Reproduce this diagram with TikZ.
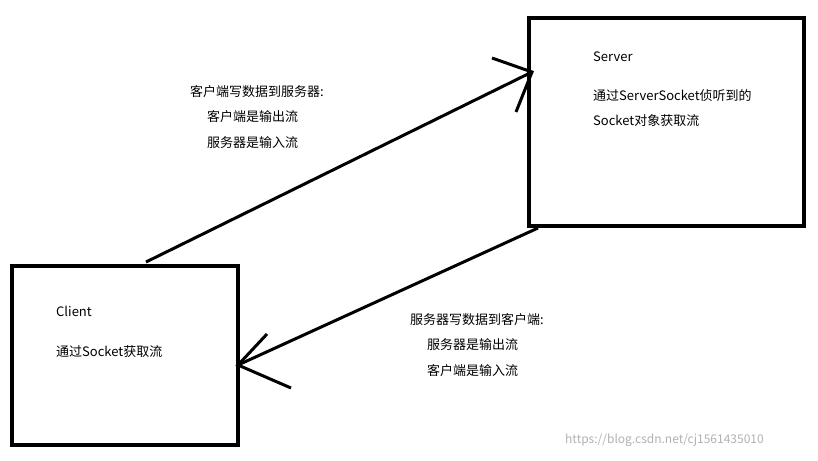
\documentclass[tikz,border=0pt]{standalone}
\usepackage{fontspec}
\setmainfont{Noto Sans CJK SC}
\begin{document}
\begin{tikzpicture}[x=1pt,y=-1pt,
  box/.style={draw,line width=3.5pt},
  ln/.style={line width=3pt},
  txt/.style={anchor=west,inner sep=0pt,font=\fontsize{13}{15}\selectfont},
  wm/.style={anchor=west,inner sep=0pt,font=\fontsize{12}{14}\selectfont,text=gray!60}]
\useasboundingbox (0,0) rectangle (818,460);
\fill[white] (0,0) rectangle (818,460);
\draw[box] (529,18) rectangle (804,226);
\draw[box] (12,266) rectangle (238,445);
\coordinate (s) at (146,262);
\coordinate (t) at (532,72);
\coordinate (t1) at (492,58);
\coordinate (t2) at (516,112);
\draw[ln] (s) -- (t);
\draw[ln,line join=miter] (t1) -- (t) -- (t2);
\coordinate (u) at (538,228);
\coordinate (v) at (238,365);
\coordinate (v1) at (291,388);
\coordinate (v2) at (267,334);
\draw[ln] (u) -- (v);
\draw[ln,line join=miter] (v1) -- (v) -- (v2);
\node[txt] (sn) at (593,57) {Server};
\node[txt] (s1) at (593,96) {通过ServerSocket侦听到的};
\node[txt] (s2) at (593,121) {Socket对象获取流};
\node[txt] (cn) at (56,311) {Client};
\node[txt] (c1) at (56,352) {通过Socket获取流};
\node[txt] (a1) at (190,92) {客户端写数据到服务器:};
\node[txt] (a2) at (207,117) {客户端是输出流};
\node[txt] (a3) at (207,143) {服务器是输入流};
\node[txt] (b1) at (410,320) {服务器写数据到客户端:};
\node[txt] (b2) at (427,345) {服务器是输出流};
\node[txt] (b3) at (427,371) {客户端是输入流};
\node[wm] (w) at (565,440) {https://blog.csdn.net/cj1561435010};
\end{tikzpicture}
\end{document}
